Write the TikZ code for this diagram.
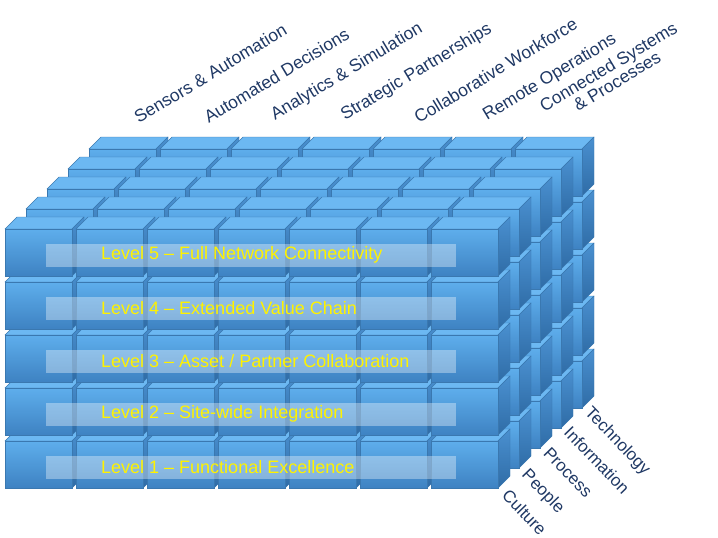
\documentclass[tikz,border=0pt]{standalone}
\usepackage{fontspec}
\setmainfont{Liberation Sans}
\definecolor{navy}{HTML}{1F3864}
\definecolor{ftop}{HTML}{5EAEEC}
\definecolor{fbot}{HTML}{3E82C2}
\definecolor{topc}{HTML}{6CB8F2}
\definecolor{rtop}{HTML}{4A90D0}
\definecolor{rbot}{HTML}{2F6CA6}
\definecolor{edgec}{HTML}{3A78B0}
\tikzset{
 front/.style={top color=ftop,bottom color=fbot,draw=edgec,line width=0.4pt},
 topf/.style={fill=topc,draw=edgec,line width=0.4pt},
 rightf/.style={top color=rtop,bottom color=rbot,draw=edgec,line width=0.4pt},
 bar/.style={fill=white,fill opacity=0.35,draw=none,minimum width=410pt,minimum height=23pt,inner sep=0pt},
 lvl/.style={text=yellow,font=\fontsize{18pt}{20pt}\selectfont},
 toplab/.style={text=navy,font=\fontsize{17.5pt}{15pt}\selectfont,rotate=31,anchor=south west,inner sep=0pt,align=center},
 sidelab/.style={text=navy,font=\fontsize{17pt}{18pt}\selectfont,rotate=-46,anchor=north west,inner sep=0pt}
}
\begin{document}
\begin{tikzpicture}[x=1pt,y=-1pt]
\useasboundingbox (0,0) rectangle (718,538);
\foreach \k in {4,3,2,1,0}{
 \foreach \l in {4,3,2,1,0}{
  \foreach \c in {0,...,6}{
   \pgfmathsetmacro{\X}{5+71*\c+21*\k}
   \pgfmathsetmacro{\Y}{229+53*\l-20*\k}
   \draw[topf] (\X,\Y) -- ++(12,-12) -- ++(67,0) -- ++(-12,12) -- cycle;
   \draw[rightf] (\X+67,\Y) -- ++(12,-12) -- ++(0,47) -- ++(-12,12) -- cycle;
   \draw[front] (\X,\Y) rectangle ++(67,47);
  }}}
\foreach \i/\t in {0/{Level 5 – Full Network Connectivity},1/{Level 4 – Extended Value Chain},2/{Level 3 – Asset / Partner Collaboration},3/{Level 2 – Site-wide Integration},4/{Level 1 – Functional Excellence}}{
 \node[bar] (b\i) at (251,{255+53*\i}) {};
 \node[lvl,anchor=west,inner sep=0pt] (t\i) at (101,{255+53*\i}) {\t};
}
\node[toplab] (s1) at (139,124) {Sensors \& Automation};
\node[toplab] (s2) at (209,124) {Automated Decisions};
\node[toplab] (s3) at (277,124) {Analytics \& Simulation};
\node[toplab] (s4) at (347,124) {Strategic Partnerships};
\node[toplab] (s5) at (419,124) {Collaborative Workforce};
\node[toplab] (s6) at (489,124) {Remote Operations};
\node[toplab] (s7) at (553,127) {Connected Systems\\\& Processes};
\node[sidelab] (r1) at (510,488) {Culture};
\node[sidelab] (r2) at (530,467) {People};
\node[sidelab] (r3) at (551,446) {Process};
\node[sidelab] (r4) at (572,425) {Information};
\node[sidelab] (r5) at (593,405) {Technology};
\end{tikzpicture}
\end{document}
